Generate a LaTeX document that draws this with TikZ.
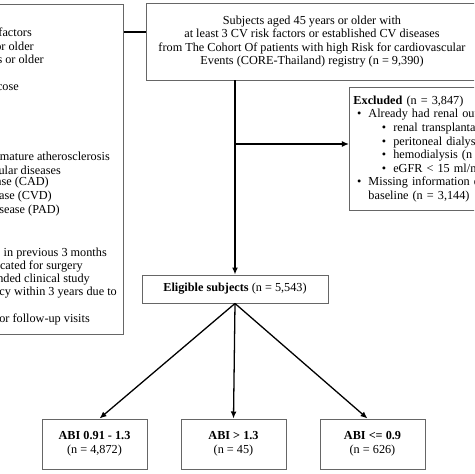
\documentclass[tikz,border=0pt]{standalone}
\usepackage{fontspec}
\setmainfont{Liberation Serif}
\usetikzlibrary{positioning, arrows.meta, calc}

\tikzset{
  box/.style={draw=black!60, line width=0.8pt, inner sep=0pt},
  link/.style={line width=1.1pt},
  flow/.style={link, -{Latex[length=6pt, width=5pt]}},
}
\newcommand{\blt}[1]{\makebox[#1][r]{\textbullet\hspace{6pt}}}

\begin{document}
\begin{tikzpicture}[x=0.03cm, y=-0.03cm, font=\fontsize{10.45}{11.6}\selectfont]
  \useasboundingbox (0,0) rectangle (474,474);
  \clip (0,0) rectangle (474,474);

  % Inclusion criteria (cut at the left edge)
  \node[box, anchor=north east, minimum width=5cm, minimum height=9.9cm] (incl) at (124,4) {};
  \foreach \n/\xe/\y/\txt in {1/32/32/factors, 2/34/46/or older, 3/44/59/s or older,
      4/19/88/cose, 5/110/156/mature atherosclerosis, 6/61/170/ular diseases,
      7/49/183/ase (CAD), 8/52/197/ase (CVD), 9/60/211/sease (PAD),
      10/107/254/in previous 3 months, 11/83/267/cated for surgery,
      12/90/280/nded clinical study, 13/117/293/cy within 3 years due to,
      14/90/319/or follow-up visits} {
    \node[anchor=east, inner sep=0pt] (incl-\n) at (\xe,\y) {\txt};
  }

  % Cohort
  \node[box, minimum width=9.96cm, minimum height=2.31cm, align=center] (cohort) at (312,41.5)
    {Subjects aged 45 years or older with\\
     at least 3 CV risk factors or established CV diseases\\
     from The Cohort Of patients with high Risk for cardiovascular\\
     Events (CORE-Thailand) registry (n = 9,390)};
  \coordinate (incl-out) at (124,32);
  \draw[link] (incl-out) -- (incl-out -| cohort.west);

  % Excluded (cut at the right edge)
  \node[box, anchor=north west, text width=4.5cm, minimum height=3.69cm, align=left,
        inner xsep=0.12cm] (excl) at (349,87)
    {\textbf{Excluded} (n = 3,847)\\
     \blt{12.8pt}Already had renal out\\
     \blt{34pt}renal transplanta\\
     \blt{34pt}peritoneal dialys\\
     \blt{34pt}hemodialysis (n\\
     \blt{34pt}eGFR < 15 ml/m\\
     \blt{12.8pt}Missing information e\\
     \hspace*{12.8pt}baseline (n = 3,144)};

  % Eligible
  \node[box, minimum width=5.58cm, minimum height=0.84cm] (elig) at (235,289)
    {\textbf{Eligible subjects} (n = 5,543)};
  \draw[flow] (elig.north |- cohort.south) -- (elig.north);
  \coordinate (split) at (elig.north |- 0,144);
  \draw[flow] (split) -- (split -| excl.west);

  % ABI groups
  \foreach \n/\x/\s/\lbl/\cnt in {1/94.5/5/{ABI 0.91 - 1.3}/{4,872},
      2/233.5/0/{ABI > 1.3}/{45}, 3/372.5/-5/{ABI <= 0.9}/{626}} {
    \node[box, minimum width=3.15cm, minimum height=1.5cm, align=center] (abi-\n) at (\x,444)
      {\textbf{\lbl}\\(n = \cnt)};
    \draw[flow] (elig.south) -- ([xshift=\s*0.03cm]abi-\n.north);
  }
\end{tikzpicture}
\end{document}
